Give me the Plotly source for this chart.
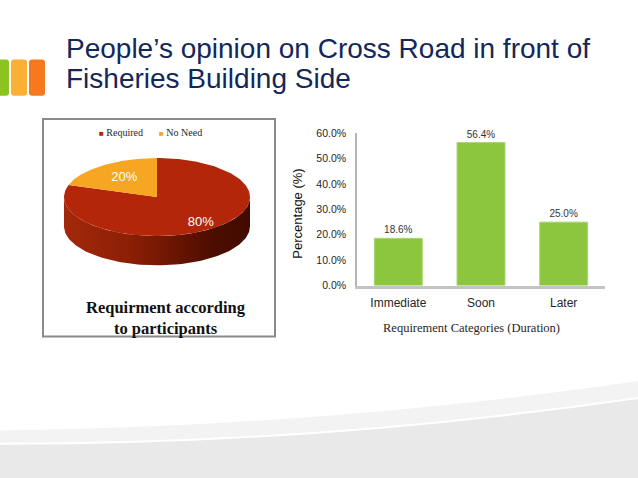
import numpy as np
import plotly.graph_objects as go

# ---------------- data ----------------
title_lines = ["People’s opinion on Cross Road in front of", "Fisheries Building Side"]
pie_labels = ["Required", "No Need"]
pie_values = [80, 20]
pie_title_lines = ["Requirment according", "to participants"]
bar_categories = ["Immediate", "Soon", "Later"]
bar_values = [18.6, 56.4, 25.0]
y_tick_values = [0, 10, 20, 30, 40, 50, 60]
y_title = "Percentage (%)"
x_title = "Requirement Categories (Duration)"

# ---------------- style ----------------
W, H = 638, 478
pie_top_colors = ["#b3260a", "#f6a623"]
pie_side_scales = [
    [[0, "#a3280b"], [0.35, "#8c1f05"], [0.8, "#4d0d00"], [1, "#420b00"]],
    [[0, "#c98418"], [1, "#8a5a0c"]],
]
label_radius = [0.8, 0.6]
CX, CY, RX, RY, DEPTH = 157, 196, 93, 40, 30
TITLE_COLOR = "#13275a"
SERIF = "Liberation Serif, Times New Roman, serif"
SANS = "Liberation Sans, Arial, sans-serif"

fig = go.Figure()


def ell(theta_deg, dy=0.0):
    t = np.radians(theta_deg)
    return CX + RX * np.cos(t), CY - RY * np.sin(t) + dy


# slice angle ranges (clockwise from 12 o'clock)
total = float(sum(pie_values))
angles = []
start = 90.0
for v in pie_values:
    end = start - 360.0 * v / total
    angles.append((start, end))
    start = end

# side walls (visible front half: -180..0 degrees)
for i, (a0, a1) in enumerate(angles):
    for k in (-360, 0, 360):
        hi = min(a0 + k, 0.0)
        lo = max(a1 + k, -180.0)
        if hi > lo:
            th = np.linspace(lo, hi, 100)
            xt, yt = ell(th)
            xb, yb = ell(th[::-1], DEPTH)
            fig.add_trace(go.Scatter(
                x=np.concatenate([xt, xb]), y=np.concatenate([yt, yb]),
                xaxis="x2", yaxis="y2", mode="lines", line=dict(width=0),
                fill="toself",
                fillgradient=dict(type="horizontal", colorscale=pie_side_scales[i]),
                showlegend=False, hoverinfo="skip"))

# top faces
for i, (a0, a1) in enumerate(angles):
    th = np.linspace(a0, a1, 160)
    xs, ys = ell(th)
    fig.add_trace(go.Scatter(
        x=np.concatenate([[CX], xs, [CX]]), y=np.concatenate([[CY], ys, [CY]]),
        xaxis="x2", yaxis="y2", mode="lines", line=dict(width=0),
        fill="toself", fillcolor=pie_top_colors[i], name=pie_labels[i],
        showlegend=False, hoverinfo="name"))

# slice labels
lx, ly, lt = [], [], []
for i, (a0, a1) in enumerate(angles):
    mid = np.radians((a0 + a1) / 2)
    lx.append(CX + label_radius[i] * RX * np.cos(mid))
    ly.append(CY - label_radius[i] * RY * np.sin(mid))
    lt.append(f"{pie_values[i] / total * 100:.0f}%")
fig.add_trace(go.Scatter(x=lx, y=ly, text=lt, mode="text", xaxis="x2", yaxis="y2",
                         textfont=dict(family=SANS, size=13, color="white"),
                         showlegend=False, hoverinfo="skip"))

# bar chart
fig.add_trace(go.Bar(
    x=bar_categories, y=bar_values, width=0.58,
    marker=dict(color="#8cc63e", line=dict(color="#a9d66f", width=1)),
    texttemplate="%{y:.1f}%", textposition="outside", cliponaxis=False,
    textfont=dict(family=SANS, size=10, color="#333333"),
    showlegend=False))


def rr(x0, y0, x1, y1, r):
    return (f"M {x0 + r} {y0} L {x1 - r} {y0} Q {x1} {y0} {x1} {y0 + r} "
            f"L {x1} {y1 - r} Q {x1} {y1} {x1 - r} {y1} L {x0 + r} {y1} "
            f"Q {x0} {y1} {x0} {y1 - r} L {x0} {y0 + r} Q {x0} {y0} {x0 + r} {y0} Z")


def px(x, y):
    """pixel -> paper coordinates"""
    return f"{x / W:.5f} {1 - y / H:.5f}"


shapes = [
    dict(type="path", xref="paper", yref="paper", layer="below",
         path=f"M {px(-5, 435.6)} Q {px(319, 432)} {px(645, 384)} L {px(645, 490)} L {px(-5, 490)} Z",
         fillcolor="#f3f3f3", line=dict(width=0)),
    dict(type="path", xref="paper", yref="paper", layer="below",
         path=f"M {px(-5, 449)} Q {px(319, 450)} {px(645, 401)} L {px(645, 490)} L {px(-5, 490)} Z",
         fillcolor="#e9e9e9", line=dict(color="white", width=2)),
    dict(type="rect", xref="x2", yref="y2", layer="below",
         x0=43, y0=116, x1=275, y1=339,
         fillcolor="white", line=dict(color="#8a8a8a", width=2)),
    dict(type="path", xref="x2", yref="y2", layer="below",
         path=rr(-6, 55, 9, 92, 3), fillcolor="#8dc21f", line=dict(width=0)),
    dict(type="path", xref="x2", yref="y2", layer="below",
         path=rr(11, 55, 27, 92, 3), fillcolor="#fbb034", line=dict(width=0)),
    dict(type="path", xref="x2", yref="y2", layer="below",
         path=rr(29, 55, 45, 92, 3), fillcolor="#f7781d", line=dict(width=0)),
]

ann = []
ann.append(dict(x=64, y=44, text=title_lines[0], xanchor="left", yanchor="middle"))
ann.append(dict(x=64, y=74, text=title_lines[1], xanchor="left", yanchor="middle"))
for a in ann:
    a.update(xref="x2", yref="y2", showarrow=False,
             font=dict(family=SANS, size=28, color=TITLE_COLOR))

legend_x = [97, 157]
for i, lab in enumerate(pie_labels):
    ann.append(dict(x=legend_x[i], y=130, xref="x2", yref="y2", showarrow=False,
                    xanchor="left", yanchor="middle",
                    text=f'<span style="color:{pie_top_colors[i]}; font-size:8px">■</span> {lab}',
                    font=dict(family=SERIF, size=10, color="#262626")))

ann.append(dict(x=166, y=320, xref="x2", yref="y2", showarrow=False,
                xanchor="center", yanchor="middle", align="center",
                text=f"<b>{pie_title_lines[0]}</b><br><b>{pie_title_lines[1]}</b>",
                font=dict(family=SERIF, size=16.5, color="#111111")))

ann.append(dict(x=298, y=213, xref="x2", yref="y2", showarrow=False, textangle=-90,
                text=y_title, font=dict(family=SANS, size=13, color="#111111")))
ann.append(dict(x=471, y=330, xref="x2", yref="y2", showarrow=False,
                text=x_title, font=dict(family=SERIF, size=12.5, color="#262626")))

fig.update_layout(
    width=W, height=H, margin=dict(l=0, r=0, t=0, b=0),
    paper_bgcolor="white", plot_bgcolor="rgba(0,0,0,0)",
    showlegend=False, shapes=shapes, annotations=ann,
    xaxis=dict(domain=[357 / W, 605 / W], type="category", showline=True,
               linecolor="#c4c4c4", linewidth=3, showgrid=False, zeroline=False,
               ticks="", ticklabelstandoff=4,
               tickfont=dict(family=SANS, size=12, color="#262626"), anchor="y"),
    yaxis=dict(domain=[1 - 286.7 / H, 1 - 130.7 / H], range=[0, 60],
               tickvals=y_tick_values, ticktext=[f"{v:.1f}%" for v in y_tick_values],
               showline=True, linecolor="#b5b5b5", linewidth=1.5, showgrid=False,
               zeroline=False, ticks="", ticklabelstandoff=7,
               tickfont=dict(family=SANS, size=10.5, color="#262626"), anchor="x"),
    xaxis2=dict(domain=[0, 1], range=[0, W], visible=False, anchor="y2", fixedrange=True),
    yaxis2=dict(domain=[0, 1], range=[H, 0], visible=False, anchor="x2", fixedrange=True),
)

fig.write_html(
    "out.html",
    config={"displayModeBar": False},
    post_script=("document.body.style.margin='0';"
                 "document.body.style.overflow='hidden';"
                 "document.body.style.background='#e9e9e9';"),
)
